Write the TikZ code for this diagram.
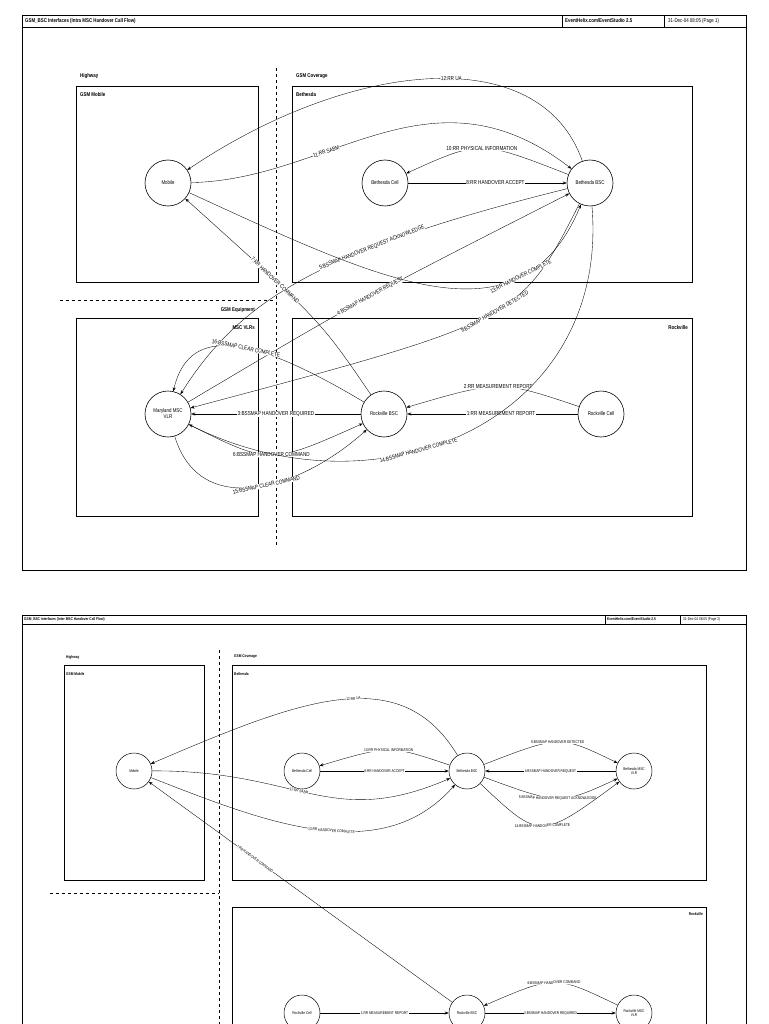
\documentclass[tikz,border=0pt]{standalone}
\usepackage{fontspec}
\setmainfont{Liberation Sans}[FakeStretch=0.8]
\usetikzlibrary{arrows.meta}
\begin{document}
\begin{tikzpicture}[x=1pt,y=-1pt,
  st/.style={draw,circle,minimum size=46pt,inner sep=0pt,font=\fontsize{5.5}{6}\selectfont,align=center,line width=0.6pt},
  sts/.style={draw,circle,minimum size=36pt,inner sep=0pt,font=\fontsize{4}{4.5}\selectfont,align=center,line width=0.5pt},
  box/.style={draw,line width=0.6pt},
  ttl/.style={font=\fontsize{5.5}{6}\selectfont\bfseries,inner sep=0pt},
  ttls/.style={font=\fontsize{4}{4.5}\selectfont\bfseries,inner sep=0pt},
  msg/.style={-{Stealth[length=4pt,width=3pt]},line width=0.35pt},
  lb/.style={font=\fontsize{5.8}{6}\selectfont,fill=white,inner sep=0.5pt,sloped},
  lbs/.style={font=\fontsize{4}{4.5}\selectfont,fill=white,inner sep=0.4pt,sloped},
  dsh/.style={dashed,line width=0.5pt}]
\useasboundingbox[fill=white] (0,0) rectangle (768,1024);
% ---------- page 1 ----------
\draw[line width=0.6pt] (22,15) rectangle (746,570);
\draw[line width=0.6pt] (22,27) -- (746,27) (562,15) -- (562,27) (664,15) -- (664,27);
\node[ttl,anchor=west] (h1) at (25,21) {GSM\_BSC Interfaces (Intra MSC Handover Call Flow)};
\node[ttl,anchor=west] (h2) at (565,21) {EventHelix.com/EventStudio 2.5};
\node[font=\fontsize{5.5}{6}\selectfont,inner sep=0pt,anchor=west] (h3) at (668,21) {31-Dec-04 08:05 (Page 1)};
\draw[box] (76,86) rectangle (258,282);
\draw[box] (292,86) rectangle (692,282);
\draw[box] (76,318) rectangle (258,516);
\draw[box] (292,318) rectangle (692,516);
\draw[dsh] (276,68) -- (276,545);
\draw[dsh] (60,300) -- (276,300);
\node[ttl,anchor=west] (t1) at (80,76) {Highway};
\node[ttl,anchor=west] (t2) at (80,95) {GSM Mobile};
\node[ttl,anchor=west] (t3) at (296,76) {GSM Coverage};
\node[ttl,anchor=west] (t4) at (296,95) {Bethesda};
\node[ttl,anchor=east] (t5) at (255,310) {GSM Equipment};
\node[ttl,anchor=east] (t6) at (255,328) {MSC VLRs};
\node[ttl,anchor=east] (t7) at (688,328) {Rockville};
\node[st] (mob) at (168,183) {Mobile};
\node[st] (bc) at (385,183) {Bethesda Cell};
\node[st] (bb) at (590,183) {Bethesda BSC};
\node[st] (mv) at (168,414) {Maryland MSC\\VLR};
\node[st] (rb) at (384,414) {Rockville BSC};
\node[st] (rc) at (601,414) {Rockville Cell};
\draw[msg] (rc) -- node[lb,pos=0.45]{1:RR MEASUREMENT REPORT} (rb);
\draw[msg] (rc) .. controls (500,380) .. node[lb]{2:RR MEASUREMENT REPORT} (rb);
\draw[msg] (rb) -- node[lb]{3:BSSMAP HANDOVER REQUIRED} (mv);
\draw[msg] (mv) .. controls (360,300) .. node[lb,pos=0.52]{4:BSSMAP HANDOVER REQUEST} (bb);
\draw[msg] (bb) .. controls (320,250) and (240,300) .. node[lb,pos=0.33]{5:BSSMAP HANDOVER REQUEST ACKNOWLEDGE} (mv);
\draw[msg] (mv) .. controls (270,465) .. node[lb]{6:BSSMAP HANDOVER COMMAND} (rb);
\draw[msg] (rb) .. controls (320,320) .. node[lb,pos=0.7]{7:RR HANDOVER COMMAND} (mob);
\draw[msg] (bc) -- node[lb,pos=0.55]{8:RR HANDOVER ACCEPT} (bb);
\draw[msg] (bb) .. controls (520,320) .. node[lb,pos=0.47]{9:BSSMAP HANDOVER DETECTED} (mv);
\draw[msg] (bb) .. controls (480,140) .. node[lb]{10:RR PHYSICAL INFORMATION} (bc);
\draw[msg] (mob) .. controls (330,180) and (430,60) .. node[lb,pos=0.35]{11:RR SABM} (bb);
\draw[msg] (bb) .. controls (540,40) and (350,60) .. node[lb,pos=0.45]{12:RR UA} (mob);
\draw[msg] (mob) .. controls (380,280) and (520,350) .. node[lb,pos=0.75]{13:RR HANDOVER COMPLETE} (bb);
\draw[msg] (bb) .. controls (610,420) and (380,520) .. node[lb,pos=0.6]{14:BSSMAP HANDOVER COMPLETE} (mv);
\draw[msg] (mv) .. controls (200,520) and (300,490) .. node[lb,pos=0.55]{15:BSSMAP CLEAR COMMAND} (rb);
\draw[msg] (rb) .. controls (260,340) and (190,320) .. node[lb,pos=0.45]{16:BSSMAP CLEAR COMPLETE} (mv);
% ---------- page 2 ----------
\draw[line width=0.6pt] (22,615) -- (22,1024) (746,615) -- (746,1024) (22,615) -- (746,615);
\draw[line width=0.6pt] (22,624) -- (746,624) (605,615) -- (605,624) (680,615) -- (680,624);
\node[ttls,anchor=west] (p1) at (24,619.5) {GSM\_BSC Interfaces (Inter MSC Handover Call Flow)};
\node[ttls,anchor=west] (p2) at (607,619.5) {EventHelix.com/EventStudio 2.5};
\node[font=\fontsize{4}{4.5}\selectfont,inner sep=0pt,anchor=west] (p3) at (683,619.5) {31-Dec-04 08:05 (Page 2)};
\draw[box] (64,665) rectangle (204,880);
\draw[box] (232,665) rectangle (706,880);
\draw[box] (232,1030) -- (232,907) -- (706,907) -- (706,1030);
\draw[dsh] (219,650) -- (219,1024);
\draw[dsh] (50,893) -- (219,893);
\node[ttls,anchor=west] (s1) at (66,657) {Highway};
\node[ttls,anchor=west] (s2) at (66,674) {GSM Mobile};
\node[ttls,anchor=west] (s3) at (234,657) {GSM Coverage};
\node[ttls,anchor=west] (s4) at (234,674) {Bethesda};
\node[ttls,anchor=east] (s5) at (703,914) {Rockville};
\node[sts] (m2) at (134,771) {Mobile};
\node[sts] (bc2) at (302,771) {Bethesda Cell};
\node[sts] (bb2) at (467,771) {Bethesda BSC};
\node[sts] (bm2) at (634,771) {Bethesda MSC\\VLR};
\node[sts] (rc2) at (302,1013) {Rockville Cell};
\node[sts] (rb2) at (467,1013) {Rockville BSC};
\node[sts] (rm2) at (634,1013) {Rockville MSC\\VLR};
\draw[msg] (bb2) .. controls (400,660) and (300,700) .. node[lbs,pos=0.45]{12:RR UA} (m2);
\draw[msg] (bb2) .. controls (390,745) .. node[lbs]{10:RR PHYSICAL INFORMATION} (bc2);
\draw[msg] (bc2) -- node[lbs]{8:RR HANDOVER ACCEPT} (bb2);
\draw[msg] (m2) .. controls (300,770) and (330,830) .. node[lbs,pos=0.45]{11:RR SABM} (bb2);
\draw[msg] (m2) .. controls (260,820) and (380,870) .. node[lbs,pos=0.55]{13:RR HANDOVER COMPLETE} (bb2);
\draw[msg] (bb2) .. controls (560,735) .. node[lbs]{9:BSSMAP HANDOVER DETECTED} (bm2);
\draw[msg] (bm2) -- node[lbs]{4:BSSMAP HANDOVER REQUEST} (bb2);
\draw[msg] (bb2) .. controls (560,805) .. node[lbs]{5:BSSMAP HANDOVER REQUEST ACKNOWLEDGE} (bm2);
\draw[msg] (bb2) .. controls (540,840) .. node[lbs]{14:BSSMAP HANDOVER COMPLETE} (bm2);
\draw[msg] (rb2) -- node[lbs,pos=0.65]{7:RR HANDOVER COMMAND} (m2);
\draw[msg] (rc2) -- node[lbs]{1:RR MEASUREMENT REPORT} (rb2);
\draw[msg] (rb2) -- node[lbs]{3:BSSMAP HANDOVER REQUIRED} (rm2);
\draw[msg] (rm2) .. controls (555,975) .. node[lbs]{6:BSSMAP HANDOVER COMMAND} (rb2);
\end{tikzpicture}
\end{document}
